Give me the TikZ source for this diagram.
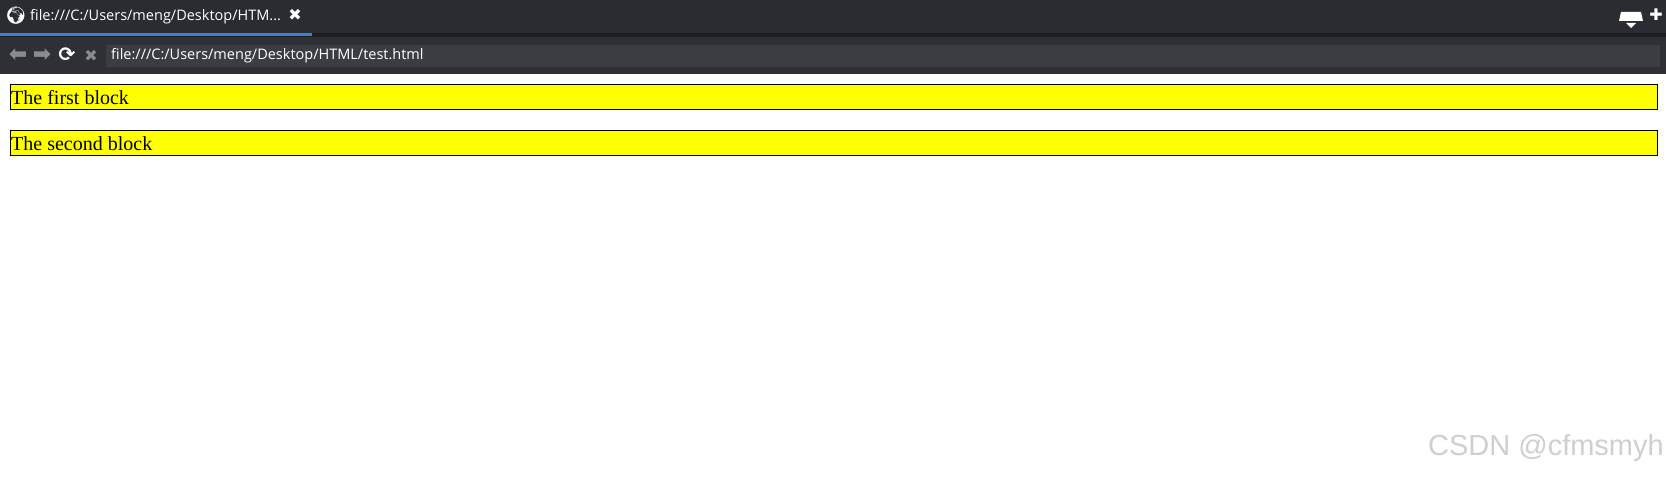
\documentclass[tikz,border=0pt]{standalone}
\usepackage{fontspec}
\setmainfont{Liberation Serif}
\newfontfamily\uifont{Open Sans}
\newfontfamily\wmfont{Liberation Sans}
\newfontfamily\symfont{DejaVu Sans}
\newfontfamily\emojifont{Noto Emoji}
\definecolor{tabbg}{HTML}{2B2C31}
\definecolor{toolbg}{HTML}{2F3035}
\definecolor{addr}{HTML}{3C3D43}
\definecolor{sep}{HTML}{1E1F22}
\definecolor{tabblue}{HTML}{3B7FD9}
\definecolor{icongray}{HTML}{8A8B90}
\definecolor{blockyellow}{HTML}{FFFF00}
\definecolor{wm}{HTML}{CFCFCF}
\tikzset{
  block/.style={draw=black,line width=1pt,fill=blockyellow},
  blocktext/.style={anchor=west,inner sep=0pt,font=\fontsize{20}{22}\selectfont},
  uitext/.style={anchor=west,inner sep=0pt,text=white,font=\uifont\fontsize{14.5}{16}\selectfont},
  icon/.style={inner sep=0pt,font=\symfont\bfseries\fontsize{16}{18}\selectfont}
}
\begin{document}
\begin{tikzpicture}[x=1pt,y=-1pt]
\useasboundingbox (0,0) rectangle (1666,478);
\fill[white] (0,0) rectangle (1666,478);
% tab bar
\fill[tabbg] (0,0) rectangle (1666,34);
\fill[sep] (0,33) rectangle (1666,37);
\fill[tabblue] (0,33) rectangle (312,36);
\fill[toolbg] (0,37) rectangle (1666,74);
\fill[addr] (106,45) rectangle (1660,67);
\node[inner sep=0pt,text=white,font=\emojifont\fontsize{17}{18}\selectfont] (globe) at (16,16) {🌍};
\node[uitext] (tabtitle) at (30,17) {file:///C:/Users/meng/Desktop/HTM...};
\node[icon,text=white] (tabclose) at (295,15) {✖};
% tab menu icon
\fill[white] (1619,21) -- (1621,12) -- (1641,12) -- (1643,21) -- cycle;
\fill[white] (1626,23) -- (1636,23) -- (1631,28) -- cycle;
\node[icon,text=white] (newtab) at (1656,15) {✚};
\node[icon,text=icongray,font=\symfont\bfseries\fontsize{22}{24}\selectfont] (back) at (18,55) {⬅};
\node[icon,text=icongray,font=\symfont\bfseries\fontsize{22}{24}\selectfont] (fwd) at (42,55) {➡};
\node[icon,text=white,font=\symfont\bfseries\fontsize{20}{22}\selectfont] (reload) at (67,55) {⟳};
\node[icon,text=icongray] (stop) at (91,56) {✖};
\node[uitext] (url) at (111,56) {file:///C:/Users/meng/Desktop/HTML/test.html};
% blocks
\draw[block] (10,85) rectangle (1657,110);
\node[blocktext] (b1) at (11,97.5) {The first block};
\draw[block] (10,131) rectangle (1657,156);
\node[blocktext] (b2) at (11,143.5) {The second block};
% watermark
\node[anchor=east,inner sep=0pt,text=wm,font=\wmfont\fontsize{29}{30}\selectfont] (wmark) at (1664,448) {CSDN @cfmsmyh};
\end{tikzpicture}
\end{document}
